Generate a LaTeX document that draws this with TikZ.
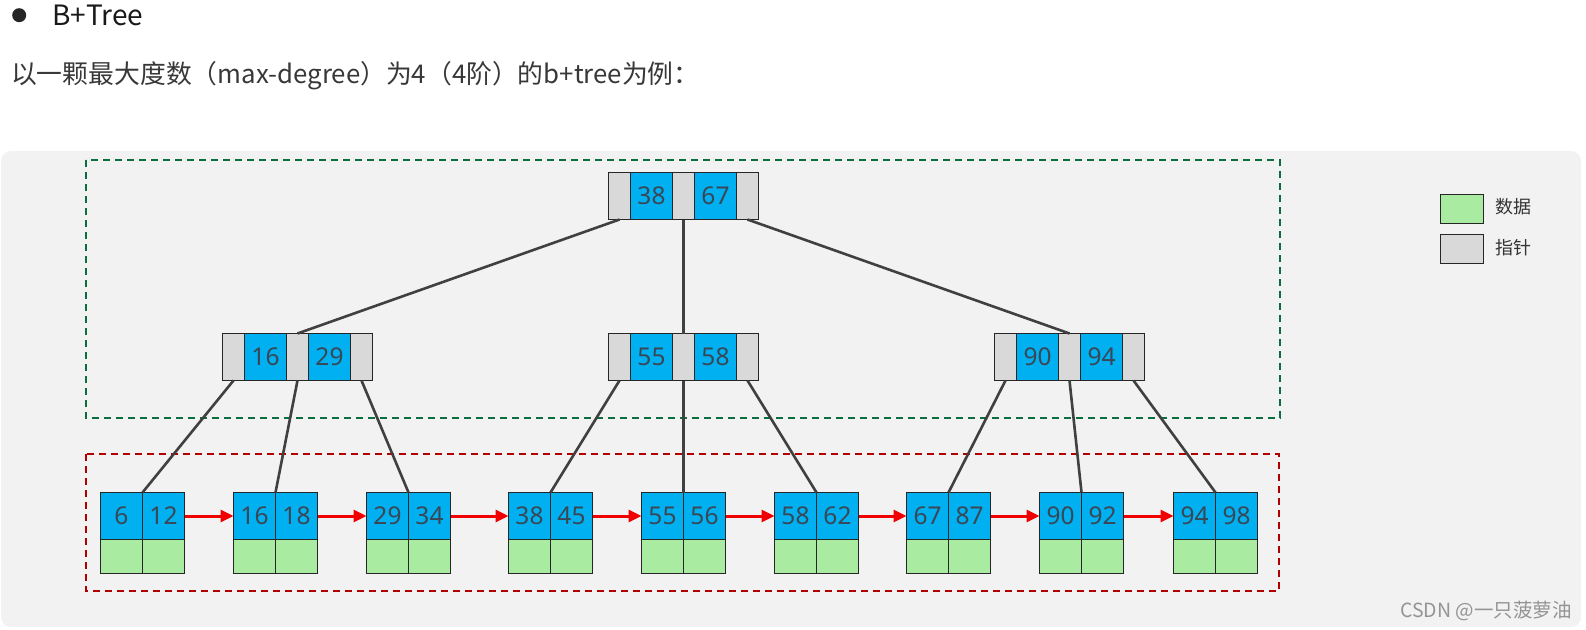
\documentclass[tikz,border=0pt]{standalone}
\usepackage{fontspec}
\setmainfont{Noto Sans CJK SC}
\newfontfamily\numfont{Noto Sans}
\usetikzlibrary{arrows.meta}
\definecolor{panelgray}{HTML}{F2F2F2}
\definecolor{ptrgray}{HTML}{D9D9D9}
\definecolor{keyblue}{HTML}{00B0F0}
\definecolor{datgreen}{HTML}{A9EBA0}
\definecolor{numtext}{HTML}{3A4756}
\definecolor{linkgray}{HTML}{404040}
\definecolor{boxgreen}{HTML}{0B6E3E}
\definecolor{boxred}{HTML}{B00000}
\definecolor{arrowred}{HTML}{F00000}
\tikzset{
  cell/.style={draw=black!85, line width=1.2pt, inner sep=0pt, outer sep=0pt, anchor=north west, minimum height=47pt},
  ptrcell/.style={cell, fill=ptrgray, minimum width=22pt},
  keycell/.style={cell, fill=keyblue, minimum width=42pt, text=numtext, font=\numfont\fontsize{24.5}{24.5}\selectfont},
  datcell/.style={cell, fill=datgreen, minimum width=42pt, minimum height=34pt},
  link/.style={draw=linkgray, line width=2.6pt},
  nextarrow/.style={draw=arrowred, line width=3pt, -{Triangle[length=13pt,width=12pt]}},
  regionbox/.style={line width=1.8pt, dash pattern=on 7pt off 5pt},
  legendbox/.style={draw=black!85, line width=1.1pt, minimum width=43pt, minimum height=29pt, inner sep=0pt, anchor=north west},
  legendtext/.style={anchor=west, inner sep=0pt, text=black!80, font=\fontsize{18}{18}\selectfont}
}
\newcommand{\innernode}[5]{%
  \node[ptrcell] (#1p1) at (#2,#3) {};
  \node[keycell] (#1k1) at (#1p1.north east) {#4};
  \node[ptrcell] (#1p2) at (#1k1.north east) {};
  \node[keycell] (#1k2) at (#1p2.north east) {#5};
  \node[ptrcell] (#1p3) at (#1k2.north east) {};
}
\newcommand{\leafnode}[5]{%
  \node[keycell] (#1k1) at (#2,#3) {#4};
  \node[keycell] (#1k2) at (#1k1.north east) {#5};
  \node[datcell] (#1d1) at (#1k1.south west) {};
  \node[datcell] (#1d2) at (#1k2.south west) {};
}
\begin{document}
\begin{tikzpicture}[x=1pt,y=-1pt]
\useasboundingbox (0,0) rectangle (1586,629);
\fill[white] (0,0) rectangle (1586,629);
% panel
\fill[panelgray, rounded corners=10pt] (1,151) rectangle (1581,627);
% header
\fill[black!85] (19.2,15.2) circle (7pt);
\node[anchor=west, inner sep=0pt, text=black!90, font=\fontsize{28}{28}\selectfont] (title) at (52,15.5) {B+Tree};
\node[anchor=west, inner sep=0pt, text=black!78, font=\fontsize{25.8}{25.8}\selectfont] (subtitle) at (11,76) {以一颗最大度数（max-degree）为4（4阶）的b+tree为例：};
% region boxes
\draw[regionbox, boxgreen] (86,160) rectangle (1280,418);
\draw[regionbox, boxred] (86,454) rectangle (1279,591);
% inner nodes
\innernode{R}{608.5}{172.5}{38}{67}
\innernode{A}{222.5}{333.5}{16}{29}
\innernode{B}{608.5}{333.5}{55}{58}
\innernode{C}{994.5}{333.5}{90}{94}
% leaves
\leafnode{L1}{100.5}{492.5}{6}{12}
\leafnode{L2}{233.5}{492.5}{16}{18}
\leafnode{L3}{366.5}{492.5}{29}{34}
\leafnode{L4}{508.5}{492.5}{38}{45}
\leafnode{L5}{641.5}{492.5}{55}{56}
\leafnode{L6}{774.5}{492.5}{58}{62}
\leafnode{L7}{906.5}{492.5}{67}{87}
\leafnode{L8}{1039.5}{492.5}{90}{92}
\leafnode{L9}{1173.5}{492.5}{94}{98}
% links root -> level 2
\draw[link] (Rp1.south) -- (Ap2.north);
\draw[link] (Rp2.south) -- (Bp2.north);
\draw[link] (Rp3.south) -- (Cp2.north);
% links level 2 -> leaves
\draw[link] (Ap1.south) -- (L1k1.north east);
\draw[link] (Ap2.south) -- (L2k1.north east);
\draw[link] (Ap3.south) -- (L3k1.north east);
\draw[link] (Bp1.south) -- (L4k1.north east);
\draw[link] (Bp2.south) -- (L5k1.north east);
\draw[link] (Bp3.south) -- (L6k1.north east);
\draw[link] (Cp1.south) -- (L7k1.north east);
\draw[link] (Cp2.south) -- (L8k1.north east);
\draw[link] (Cp3.south) -- (L9k1.north east);
% leaf chain
\foreach \a/\b in {L1/L2,L2/L3,L3/L4,L4/L5,L5/L6,L6/L7,L7/L8,L8/L9}{
  \draw[nextarrow] (\a k2.east) -- (\b k1.west);
}
% legend
\node[legendbox, fill=datgreen] (lgdat) at (1439.5,193.5) {};
\node[legendbox, fill=ptrgray] (lgptr) at (1439.5,233.5) {};
\node[legendtext] (lgdattext) at (1495,206.7) {数据};
\node[legendtext] (lgptrtext) at (1495,247.7) {指针};
% watermark
\node[anchor=west, inner sep=0pt, text=black!42, font=\fontsize{19.5}{19.5}\selectfont] (mark) at (1400,611) {CSDN @一只菠萝油};
\end{tikzpicture}
\end{document}
